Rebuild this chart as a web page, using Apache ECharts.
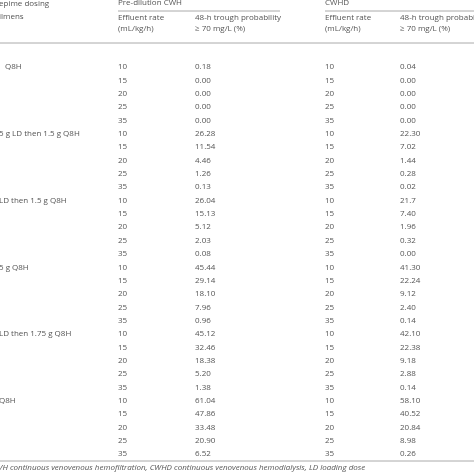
<!DOCTYPE html>
<html><head><meta charset="utf-8">
<script src="https://cdn.jsdelivr.net/npm/echarts@6/dist/echarts.min.js"></script>
<style>html,body{margin:0;background:#fff}#c{width:474px;height:474px}</style>
</head><body><div id="c"></div>
<script>
var regimens = ["Q8H", "5 g LD then 1.5 g Q8H", "LD then 1.5 g Q8H", "5 g Q8H", "LD then 1.75 g Q8H", "Q8H"];
var rates = ["10", "15", "20", "25", "35"];
var cvvh = [
  ["0.18", "0.00", "0.00", "0.00", "0.00"],
  ["26.28", "11.54", "4.46", "1.26", "0.13"],
  ["26.04", "15.13", "5.12", "2.03", "0.08"],
  ["45.44", "29.14", "18.10", "7.96", "0.96"],
  ["45.12", "32.46", "18.38", "5.20", "1.38"],
  ["61.04", "47.86", "33.48", "20.90", "6.52"]
];
var cvvhd = [
  ["0.04", "0.00", "0.00", "0.00", "0.00"],
  ["22.30", "7.02", "1.44", "0.28", "0.02"],
  ["21.7", "7.40", "1.96", "0.32", "0.00"],
  ["41.30", "22.24", "9.12", "2.40", "0.14"],
  ["42.10", "22.38", "9.18", "2.88", "0.14"],
  ["58.10", "40.52", "20.84", "8.98", "0.26"]
];
var footnote = "VH continuous venovenous hemofiltration, CWHD continuous venovenous hemodialysis, LD loading dose";

var chart = echarts.init(document.getElementById('c'));
var g = [];
var col = '#555';
function txt(x, y, s, extra) {
  g.push({type: 'text', x: x, y: y, style: Object.assign({text: s, fill: col, font: '8px "Open Sans"', textVerticalAlign: 'middle'}, extra || {})});
}
function line(x1, y1, x2, y2) {
  g.push({type: 'line', shape: {x1: x1, y1: y1, x2: x2, y2: y2}, style: {stroke: '#aaa', lineWidth: 1}});
}
// header
txt(-1, 4, "epime dosing");
txt(-1, 17, "ilmens");
txt(118, 3, "Pre-dilution CWH");
txt(325, 3, "CWHD");
line(118, 11, 280, 11);
line(325, 11, 474, 11);
txt(118, 18, "Effluent rate");
txt(118, 29, "(mL/kg/h)");
txt(195, 18, "48-h trough probability");
txt(195, 29, "\u2265 70 mg/L (%)");
txt(325, 18, "Effluent rate");
txt(325, 29, "(mL/kg/h)");
txt(400, 18, "48-h trough probability");
txt(400, 29, "\u2265 70 mg/L (%)");
line(0, 43, 474, 43);
// body
var y0 = 67, dy = 13.35;
regimens.forEach(function (r, i) {
  rates.forEach(function (rt, j) {
    var y = y0 + (i * 5 + j) * dy;
    if (j === 0) txt(i === 0 ? 5 : -1, y, r);
    txt(118, y, rt);
    txt(195, y, cvvh[i][j]);
    txt(325, y, rt);
    txt(400, y, cvvhd[i][j]);
  });
});
line(0, 461, 474, 461);
txt(-2, 468, footnote, {font: 'italic 8px "Open Sans"'});
chart.setOption({animation: false, graphic: g});
</script></body></html>
